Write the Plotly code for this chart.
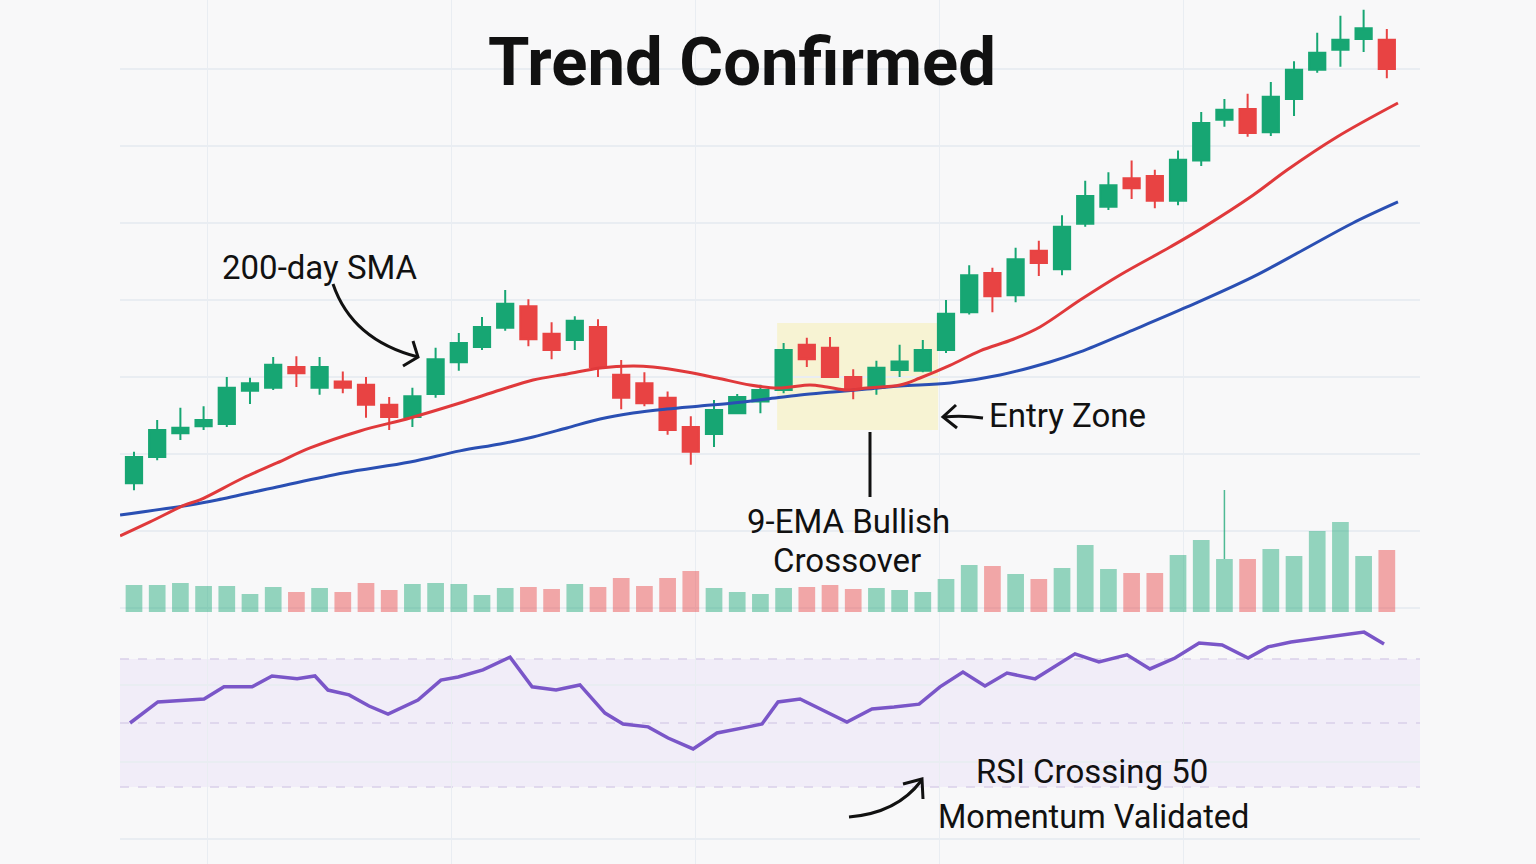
import plotly.graph_objects as go

# ---------------- data ----------------
opens = [96.2, 99.6, 102.7, 103.6, 103.9, 108.2, 108.6, 111.3, 108.6, 109.4,
         109.0, 106.4, 104.8, 107.8, 111.9, 113.9, 116.4, 119.2, 115.6, 114.8,
         116.5, 110.3, 109.2, 107.3, 103.5, 102.6, 105.3, 106.8, 108.3, 114.2,
         113.8, 110.0, 108.6, 110.9, 110.8, 113.5, 118.4, 123.5, 120.6, 126.4,
         124.0, 129.9, 132.1, 135.8, 136.1, 132.9, 138.1, 143.4, 144.8, 141.8,
         146.1, 149.9, 152.5, 153.9, 153.8]
highs = [100.3, 104.4, 106.0, 106.2, 110.0, 109.9, 112.6, 112.7, 112.6, 110.7,
         110.0, 107.4, 108.6, 113.8, 115.7, 117.8, 121.3, 120.1, 117.1, 117.9,
         117.5, 112.2, 110.6, 108.1, 104.9, 107.0, 107.8, 109.0, 114.4, 115.1,
         115.2, 111.0, 112.1, 114.2, 114.8, 120.0, 124.5, 124.2, 126.8, 127.7,
         131.0, 135.5, 136.6, 138.1, 136.9, 139.4, 144.4, 146.1, 146.8, 148.3,
         151.0, 154.7, 156.9, 157.7, 155.2]
lows = [95.3, 99.2, 101.8, 103.1, 103.5, 106.5, 108.3, 108.7, 107.7, 107.9,
        104.7, 103.1, 103.5, 107.3, 110.8, 113.5, 116.0, 114.0, 112.3, 113.5,
        110.0, 105.8, 106.2, 102.5, 98.6, 100.9, 105.2, 105.3, 107.9, 111.3,
        109.9, 107.1, 107.7, 110.0, 110.6, 113.1, 118.1, 118.4, 119.7, 123.1,
        123.2, 129.5, 131.7, 133.1, 131.9, 132.3, 137.4, 142.5, 141.2, 141.3,
        143.9, 149.5, 150.3, 152.2, 148.8]
closes = [99.6, 103.1, 103.4, 104.4, 108.6, 109.2, 111.6, 110.5, 111.3, 108.6,
          106.4, 104.8, 107.5, 112.3, 114.4, 116.5, 119.5, 114.9, 113.5, 117.3,
          111.3, 107.3, 106.6, 103.1, 100.3, 105.7, 107.4, 108.3, 113.5, 112.3,
          110.0, 108.3, 111.2, 112.0, 113.5, 118.2, 123.2, 120.5, 125.3, 124.8,
          129.5, 133.5, 134.9, 134.5, 132.9, 138.2, 143.0, 144.7, 141.7, 146.4,
          149.9, 152.1, 153.8, 155.3, 150.0]

volume = [270, 270, 290, 260, 260, 180, 250, 200, 240, 200,
          290, 220, 280, 290, 280, 170, 240, 250, 230, 280,
          250, 340, 260, 340, 410, 240, 200, 180, 240, 250,
          270, 230, 240, 220, 200, 330, 470, 460, 380, 330,
          440, 670, 430, 390, 390, 570, 720, 530, 530, 630,
          560, 810, 900, 560, 620]
volume_spike_index = 47
volume_spike_value = 1220

ema_x = [-0.60, 0.69, 2.20, 2.84, 4.70, 6.16, 7.59, 9.74, 11.90, 14.05,
         15.78, 17.20, 18.66, 20.09, 21.51, 22.37, 23.84, 25.13, 26.55, 27.72,
         28.28, 29.14, 29.87, 30.73, 31.59, 33.02, 33.88, 35.17, 36.47, 37.90,
         39.05, 40.78, 42.50, 44.66, 46.08, 48.23, 49.70, 51.85, 54.48]
ema_y = [89.35, 91.17, 93.38, 94.03, 96.88, 98.83, 100.78, 102.99, 104.68, 106.62,
         108.31, 109.61, 110.39, 111.17, 111.43, 111.30, 110.65, 109.87, 108.96, 108.57,
         108.70, 108.96, 108.70, 108.31, 108.57, 108.96, 109.87, 111.50, 113.40, 114.90,
         116.50, 120.00, 123.25, 126.88, 129.40, 133.60, 136.88, 141.17, 145.58]

sma_x = [-0.60, 2.41, 3.58, 6.16, 9.01, 11.90, 14.05, 15.78, 17.20, 18.66,
         20.09, 21.51, 22.97, 24.40, 25.82, 27.28, 28.71, 30.13, 31.59, 33.02,
         35.17, 37.33, 39.48, 40.78, 43.06, 45.39, 48.23, 50.39, 52.54, 54.48]
sma_y = [92.08, 93.38, 94.03, 95.71, 97.53, 98.96, 100.40, 101.30, 102.21, 103.38,
         104.55, 105.32, 105.84, 106.23, 106.62, 107.14, 107.66, 108.05, 108.44, 108.83,
         109.22, 110.26, 111.95, 113.25, 116.10, 119.09, 123.00, 126.49, 130.00, 132.73]

rsi_x = [-0.17, 1.03, 3.02, 3.88, 5.09, 5.95, 7.03, 7.80, 8.36, 9.27,
         10.13, 10.95, 12.24, 13.23, 13.97, 15.04, 16.21, 17.16, 18.19, 19.22,
         20.30, 21.08, 22.16, 23.02, 24.10, 25.13, 26.47, 27.07, 27.76, 28.71,
         30.73, 31.81, 32.76, 33.84, 34.74, 35.73, 36.68, 37.63, 38.84, 40.56,
         41.59, 42.80, 43.79, 44.87, 45.91, 46.90, 48.02, 48.88, 49.87, 51.98,
         53.02, 53.88]
rsi_y = [50.0, 56.6, 57.5, 61.3, 61.3, 64.7, 63.8, 64.7, 60.3, 58.8,
         55.3, 52.8, 57.2, 63.4, 64.4, 66.6, 70.6, 61.3, 60.3, 61.9,
         53.1, 49.7, 48.8, 45.3, 41.9, 46.9, 48.8, 49.7, 56.6, 57.5,
         50.3, 54.4, 55.0, 55.9, 61.3, 65.9, 61.6, 65.6, 63.8, 71.6,
         69.1, 71.3, 66.9, 70.3, 75.0, 74.4, 70.3, 73.8, 75.3, 77.2,
         78.4, 74.7]

rsi_levels = [30, 50, 70]
entry_zone_x = [27.72, 34.66]
entry_zone_y = [103.1, 117.0]

title_text = "Trend Confirmed"

# ---------------- styling ----------------
UP = "#17a673"
DOWN = "#e84343"
UP_VOL = "rgba(23,166,115,0.45)"
DOWN_VOL = "rgba(232,67,67,0.45)"
BG = "#f8f8f9"
GRID = "#e9edf2"
INK = "#111111"
FONT = "Roboto"

W, H = 1536, 864
L, R = 120, 116


def px(x):
    return (x - L) / (W - L - R)


def py(y):
    return 1 - y / H


def path(cmds):
    out = []
    for c in cmds:
        if isinstance(c, str):
            out.append(c)
        else:
            out.append(f"{px(c[0]):.5f},{py(c[1]):.5f}")
    return " ".join(out)


n = len(opens)
idx = list(range(n))
vol_colors = [UP_VOL if c >= o else DOWN_VOL for o, c in zip(opens, closes)]

fig = go.Figure()

fig.add_trace(go.Bar(
    x=idx, y=volume, marker=dict(color=vol_colors, line=dict(width=0)),
    width=0.72, yaxis="y2", hoverinfo="skip"))
fig.add_trace(go.Scatter(
    x=[volume_spike_index, volume_spike_index],
    y=[volume[volume_spike_index], volume_spike_value],
    mode="lines", line=dict(color="rgba(23,166,115,0.75)", width=1.5),
    yaxis="y2", hoverinfo="skip"))

fig.add_trace(go.Scatter(
    x=rsi_x, y=rsi_y, mode="lines",
    line=dict(color="#7a56c8", width=3.5), yaxis="y3", hoverinfo="skip"))

fig.add_trace(go.Candlestick(
    x=idx, open=opens, high=highs, low=lows, close=closes,
    increasing=dict(line=dict(color=UP, width=2), fillcolor=UP),
    decreasing=dict(line=dict(color=DOWN, width=2), fillcolor=DOWN),
    whiskerwidth=0, hoverinfo="skip"))

fig.add_trace(go.Scatter(
    x=sma_x, y=sma_y, mode="lines",
    line=dict(color="#2a4fb3", width=3, shape="spline", smoothing=1.0), hoverinfo="skip"))
fig.add_trace(go.Scatter(
    x=ema_x, y=ema_y, mode="lines",
    line=dict(color="#e0393b", width=3, shape="spline", smoothing=1.0), hoverinfo="skip"))

shapes = []
# Entry zone
shapes.append(dict(type="rect", xref="x", yref="y",
                   x0=entry_zone_x[0], x1=entry_zone_x[1],
                   y0=entry_zone_y[0], y1=entry_zone_y[1],
                   fillcolor="#f7f3d3", line=dict(width=0), layer="below"))
# RSI band
shapes.append(dict(type="rect", xref="paper", yref="y3", x0=0, x1=1,
                   y0=rsi_levels[0], y1=rsi_levels[2],
                   fillcolor="#f1edf8", line=dict(width=0), layer="below"))
for lv in rsi_levels:
    shapes.append(dict(type="line", xref="paper", yref="y3", x0=0, x1=1,
                       y0=lv, y1=lv, line=dict(color="#d9cfe9", width=1.5, dash="dash"),
                       layer="below"))

pen = dict(color=INK, width=3)
# 200-day SMA arrow
shapes.append(dict(type="path", xref="paper", yref="paper",
                   path=path(["M", (333, 284), "Q", (352, 340), (418, 357)]), line=pen))
shapes.append(dict(type="path", xref="paper", yref="paper",
                   path=path(["M", (413, 341), "L", (418, 357), "L", (403, 366)]), line=pen))
# Entry zone arrow
shapes.append(dict(type="path", xref="paper", yref="paper",
                   path=path(["M", (983, 418), "Q", (962, 415), (944, 417)]), line=pen))
shapes.append(dict(type="path", xref="paper", yref="paper",
                   path=path(["M", (956, 405), "L", (943, 417), "L", (957, 428)]), line=pen))
# crossover pointer
shapes.append(dict(type="path", xref="paper", yref="paper",
                   path=path(["M", (870, 432), "L", (870, 497)]), line=pen))
# RSI arrow
shapes.append(dict(type="path", xref="paper", yref="paper",
                   path=path(["M", (849, 817), "Q", (897, 813), (921, 781)]), line=pen))
shapes.append(dict(type="path", xref="paper", yref="paper",
                   path=path(["M", (903, 784), "L", (922, 779), "L", (923, 799)]), line=pen))


def label(text, x, y, size=33, anchor="center", bold=False):
    return dict(text=f"<b>{text}</b>" if bold else text, xref="paper", yref="paper",
                x=px(x), y=py(y), xanchor=anchor, yanchor="middle", showarrow=False,
                font=dict(family=FONT, size=size, color=INK))


annotations = [
    label(title_text, 742, 62, size=67, bold=True),
    label("200-day SMA", 320, 267),
    label("Entry Zone", 987, 416, anchor="left"),
    label("9-EMA Bullish", 848, 521),
    label("Crossover", 847, 560),
    label("RSI Crossing 50", 1092, 771),
    label("Momentum Validated", 1093, 817, size=32.5),
]

fig.update_layout(
    width=W, height=H,
    margin=dict(l=L, r=R, t=0, b=0),
    paper_bgcolor=BG, plot_bgcolor=BG,
    showlegend=False, hovermode=False,
    font=dict(family=FONT),
    shapes=shapes, annotations=annotations,
    xaxis=dict(range=[-0.603, 55.43], showgrid=True, gridcolor=GRID, gridwidth=1,
               tick0=3.15, dtick=10.52, showticklabels=False, zeroline=False,
               showline=False, ticks="", rangeslider=dict(visible=False)),
    yaxis=dict(range=[46.75, 158.96], showgrid=True, gridcolor=GRID, gridwidth=1.5,
               tick0=0, dtick=10, showticklabels=False, zeroline=False, ticks=""),
    yaxis2=dict(range=[-2520, 6120], overlaying="y", visible=False),
    yaxis3=dict(range=[5.94, 275.94], overlaying="y", visible=False),
    boxgap=0.3, boxgroupgap=0,
)

fig.write_html("out.html")
